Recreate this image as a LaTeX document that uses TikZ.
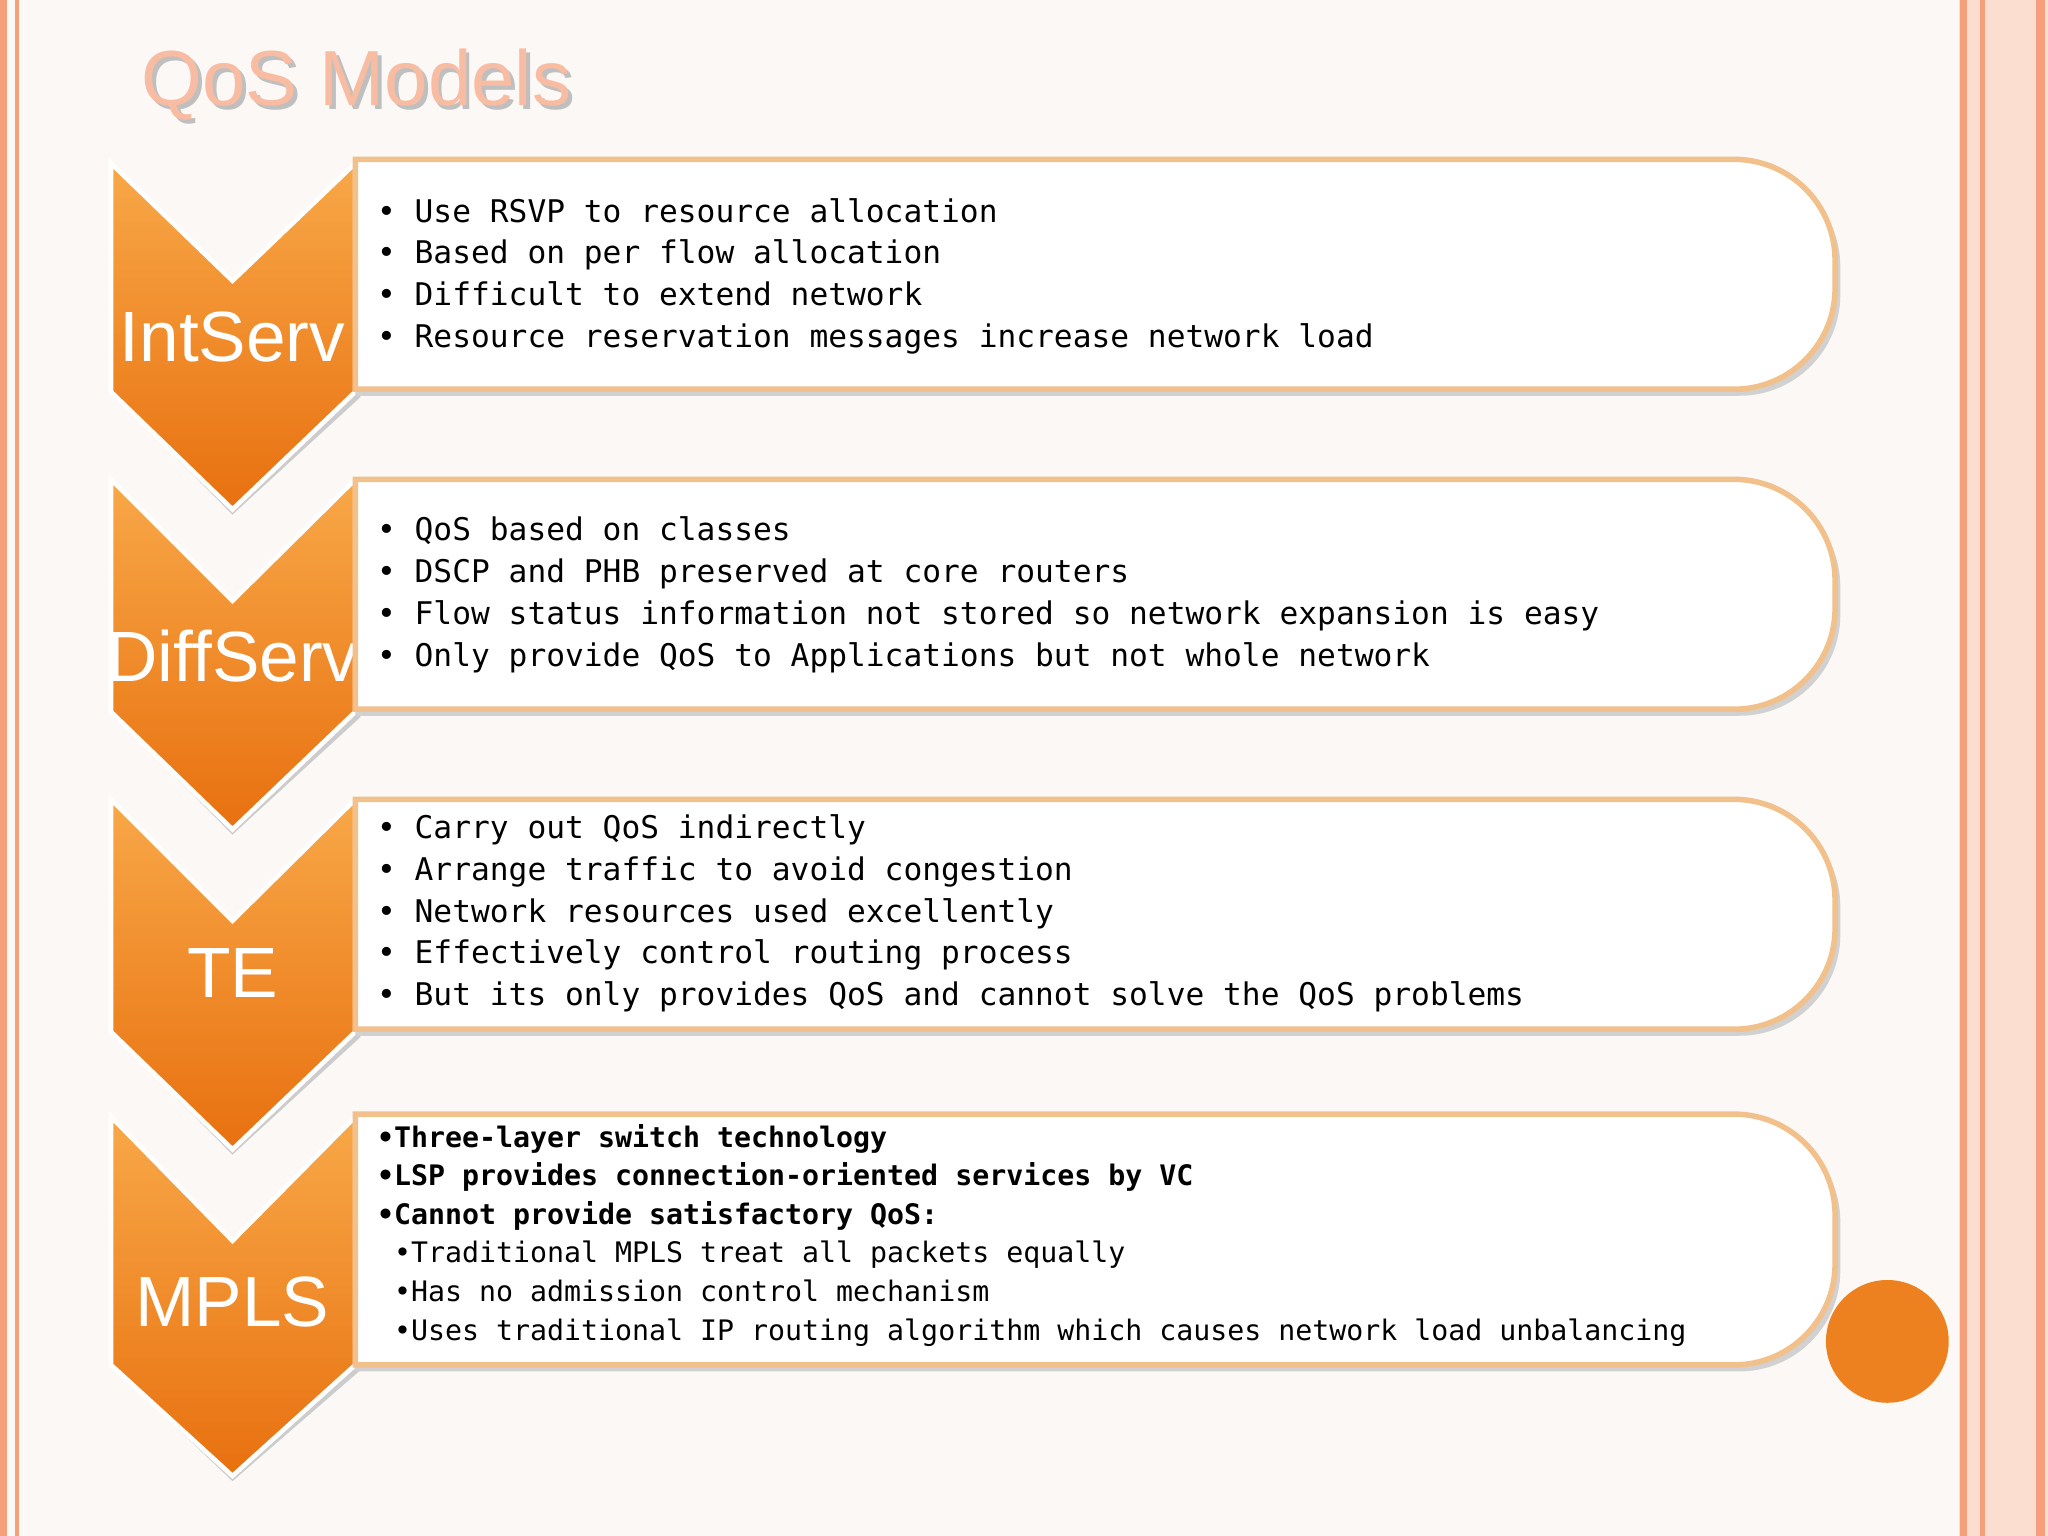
\documentclass[tikz,border=0pt]{standalone}
\usepackage{fontspec}
\setmainfont{Liberation Sans}
\newfontfamily\monof{DejaVu Sans Mono}
\begin{document}
\begin{tikzpicture}[x=0.01cm,y=-0.01cm]
\definecolor{bg}{HTML}{FBF8F5}
\definecolor{oline}{HTML}{F5A07A}
\definecolor{otop}{HTML}{F8A848}
\definecolor{obot}{HTML}{E8700F}
\definecolor{bord}{HTML}{F2C08A}
\tikzset{
 chev/.style={top color=otop,bottom color=obot,draw=white,line width=1pt},
 lab/.style={text=white,font=\fontsize{15.5}{16}\selectfont},
 boxs/.style={fill=white,draw=bord,line width=1.2pt},
 shad/.style={fill=black!18},
 txt/.style={anchor=north west,align=left,inner sep=0pt,font=\monof\fontsize{6.8}{9.1}\selectfont},
 txtm/.style={anchor=north west,align=left,inner sep=0pt,font=\monof\fontsize{6.15}{8.4}\selectfont}
}
\useasboundingbox (0,0) rectangle (1568,1176);
\fill[bg] (0,0) rectangle (1568,1176);
\draw[oline,line width=1.5pt] (3,0)--(3,1176);
\draw[oline,line width=1pt] (13,0)--(13,1176);
\fill[oline!35] (1500,0) rectangle (1568,1176);
\draw[oline,line width=1.5pt] (1503,0)--(1503,1176);
\draw[oline,line width=1pt] (1518,0)--(1518,1176);
\draw[oline,line width=2pt] (1562,0)--(1562,1176);
\node[font=\fontsize{17}{18}\selectfont,text=black!25] at (276,68) {QoS Models};
\node (title) [font=\fontsize{17}{18}\selectfont,text=oline!70] at (273,65) {QoS Models};
% chevrons
\foreach \t/\n/\b/\tip/\name/\lbl/\ly in {125/215/300/390/c1/IntServ/258, 367/460/545/635/c2/DiffServ/502, 612/705/790/880/c3/TE/745, 855/950/1045/1130/c4/MPLS/997}{
 \fill[black!20] (89,\t+4)--(178,\n+4)--(276,\t+4)--(276,\b+4)--(178,\tip+4)--(89,\b+4)--cycle;
 \draw[chev] (85,\t)--(178,\n)--(272,\t)--(272,\b)--(178,\tip)--(85,\b)--cycle;
 \node[lab] (\name) at (178,\ly) {\lbl};
}
% boxes
\foreach \t/\b in {122/298, 367/543, 612/788, 853/1045}{
 \fill[shad] (272,\t+5) {[rounded corners=22] -- (1409,\t+5) -- (1409,\b+5)} -- (272,\b+5) -- cycle;
 \path[boxs] (272,\t) {[rounded corners=22] -- (1405,\t) -- (1405,\b)} -- (272,\b) -- cycle;
}
\fill[obot!70!otop] (1445,1027) circle (47);
\node[txt] (t1) at (288,151) {• Use RSVP to resource allocation\\• Based on per flow allocation\\• Difficult to extend network\\• Resource reservation messages increase network load};
\node[txt] (t2) at (288,395) {• QoS based on classes\\• DSCP and PHB preserved at core routers\\• Flow status information not stored so network expansion is easy\\• Only provide QoS to Applications but not whole network};
\node[txt] (t3) at (288,623) {• Carry out QoS indirectly\\• Arrange traffic to avoid congestion\\• Network resources used excellently\\• Effectively control routing process\\• But its only provides QoS and cannot solve the QoS problems};
\node[txtm] (t4) at (288,860) {\textbf{•Three-layer switch technology}\\\textbf{•LSP provides connection-oriented services by VC}\\\textbf{•Cannot provide satisfactory QoS:}\\\ •Traditional MPLS treat all packets equally\\\ •Has no admission control mechanism\\\ •Uses traditional IP routing algorithm which causes network load unbalancing};
\end{tikzpicture}
\end{document}
